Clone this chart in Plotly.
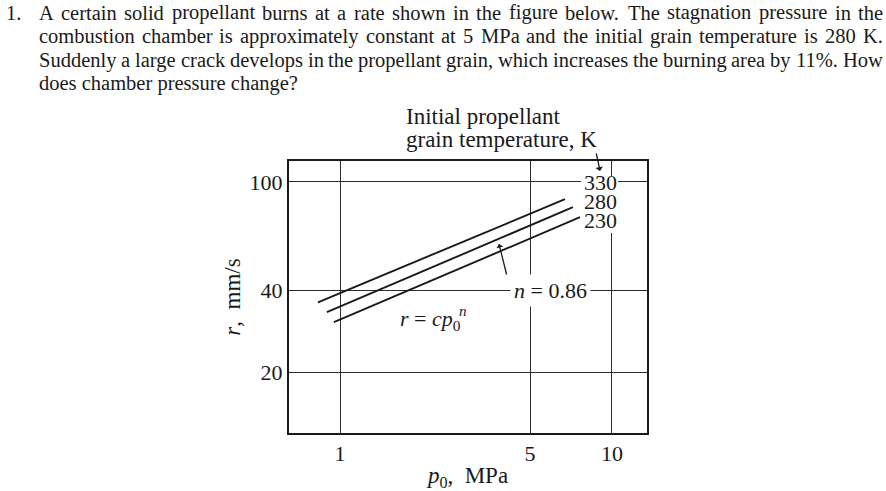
import math
import plotly.graph_objects as go

# ---- data ----
temps_K = ["330", "280", "230"]
p0_start = [0.829, 0.894, 0.949]      # MPa, left end of each line
p0_end = [6.72, 7.19, 7.63]           # MPa, right end
r_start = [36.1, 33.2, 30.5]          # mm/s at left end
r_end = [86.4, 80.8, 74.2]            # mm/s at right end
x_ticks = [1, 5, 10]
y_ticks = [20, 40, 100]
x_tick_text = ["1", "5", "10"]
y_tick_text = ["20", "40", "100"]
n_exponent = "0.86"

problem_lines = [
    "A certain solid propellant burns at a rate shown in the figure below. The stagnation pressure in the",
    "combustion chamber is approximately constant at 5 MPa and the initial grain temperature is 280 K.",
    "Suddenly a large crack develops in the propellant grain, which increases the burning area by 11%. How",
    "does chamber pressure change?",
]
justify_line = [True, True, True, False]

W, H = 886, 491
L, R, T, B = 289, 647, 161, 433
SERIF = "Liberation Serif, Times New Roman, serif"
INK = "#1a1a1a"

# Times-compatible advance widths (per 1000 em), used only to justify the paragraph
_TW = {' ': 250, '!': 333, ',': 250, '-': 333, '.': 250, '?': 444, '%': 833, ':': 278,
       'A': 722, 'B': 667, 'C': 667, 'D': 722, 'E': 611, 'F': 556, 'G': 722, 'H': 722,
       'I': 333, 'J': 389, 'K': 722, 'L': 611, 'M': 889, 'N': 722, 'O': 722, 'P': 556,
       'Q': 722, 'R': 667, 'S': 556, 'T': 611, 'U': 722, 'V': 722, 'W': 944, 'X': 722,
       'Y': 722, 'Z': 611, 'a': 444, 'b': 500, 'c': 444, 'd': 500, 'e': 444, 'f': 333,
       'g': 500, 'h': 500, 'i': 278, 'j': 278, 'k': 500, 'l': 278, 'm': 778, 'n': 500,
       'o': 500, 'p': 500, 'q': 500, 'r': 333, 's': 389, 't': 278, 'u': 500, 'v': 500,
       'w': 722, 'x': 500, 'y': 500, 'z': 444}


def text_w(s, size):
    return sum(_TW.get(ch, 500) for ch in s) * size / 1000.0


def px(x):
    return (x - L) / (R - L)


def py(y):
    return (B - y) / (B - T)


fig = go.Figure()
for i, t in enumerate(temps_K):
    fig.add_trace(go.Scatter(
        x=[p0_start[i], p0_end[i]], y=[r_start[i], r_end[i]],
        mode="lines", line=dict(color=INK, width=1.9),
        name=t + " K", hoverinfo="skip"))

fig.update_layout(
    width=W, height=H,
    margin=dict(l=L, r=W - R, t=T, b=H - B, autoexpand=False),
    paper_bgcolor="white", plot_bgcolor="white",
    showlegend=False,
    font=dict(family=SERIF, color=INK, size=22),
    xaxis=dict(type="log", range=[-0.188, 1.129], tickvals=x_ticks, ticktext=x_tick_text,
               showgrid=True, gridcolor="#2c2c2c", gridwidth=1.4, zeroline=False,
               showline=True, mirror=True, linecolor=INK, linewidth=2, ticks="",
               tickfont=dict(size=22, family=SERIF, color=INK),
               title=dict(text="<i>p</i><sub>0</sub>,  MPa", standoff=2,
                          font=dict(size=23, family=SERIF, color=INK))),
    yaxis=dict(type="log", range=[1.077, 2.077], tickvals=y_ticks, ticktext=y_tick_text,
               showgrid=True, gridcolor="#2c2c2c", gridwidth=1.4, zeroline=False,
               showline=True, mirror=True, linecolor=INK, linewidth=2, ticks="",
               tickfont=dict(size=22, family=SERIF, color=INK),
               title=dict(text="<i>r</i>,  mm/s", standoff=3,
                          font=dict(size=23, family=SERIF, color=INK))),
)

# gap in the grid behind the temperature labels
fig.add_shape(type="rect", xref="paper", yref="paper", layer="above",
              x0=px(581), x1=px(618), y0=py(233), y1=py(176),
              fillcolor="white", line=dict(width=0))

ann = []
# problem statement (justified like the source page)
FS = 20.5
X0, X1 = 37, 881
ann.append(dict(text="1.", x=px(4), y=py(13), xref="paper", yref="paper",
                xanchor="left", yanchor="middle", showarrow=False,
                font=dict(size=FS, family=SERIF, color=INK)))
for line, yy, just in zip(problem_lines, [13, 36, 60, 84], justify_line):
    if not just:
        ann.append(dict(text=line, x=px(X0), y=py(yy), xref="paper", yref="paper",
                        xanchor="left", yanchor="middle", showarrow=False,
                        font=dict(size=FS, family=SERIF, color=INK)))
        continue
    words = line.split(" ")
    widths = [text_w(w, FS) for w in words]
    gap = (X1 - X0 - sum(widths)) / (len(words) - 1)
    xpos = X0
    for w, ww in zip(words, widths):
        ann.append(dict(text=w, x=px(xpos), y=py(yy), xref="paper", yref="paper",
                        xanchor="left", yanchor="middle", showarrow=False,
                        font=dict(size=FS, family=SERIF, color=INK)))
        xpos += ww + gap

# heading above temperatures
ann.append(dict(text="Initial propellant", x=px(404), y=py(117), xref="paper", yref="paper",
                xanchor="left", yanchor="middle", showarrow=False,
                font=dict(size=23, family=SERIF, color=INK)))
ann.append(dict(text="grain temperature, K", x=px(404), y=py(139), xref="paper", yref="paper",
                xanchor="left", yanchor="middle", showarrow=False,
                font=dict(size=23, family=SERIF, color=INK)))
# arrow from K to 330
ann.append(dict(text="", x=px(600), y=py(171), xref="paper", yref="paper",
                ax=-4, ay=-19, showarrow=True, arrowhead=1, arrowsize=1,
                arrowwidth=1.3, arrowcolor=INK))

# temperature labels
for t, yy in zip(temps_K, [182, 201, 220]):
    ann.append(dict(text=t, x=px(600), y=py(yy), xref="paper", yref="paper",
                    xanchor="center", yanchor="middle", showarrow=False,
                    font=dict(size=22, family=SERIF, color=INK)))

# n = 0.86 on the 40 grid line (log axis -> log10 coordinate)
ann.append(dict(text="<i>n</i> = " + n_exponent, x=px(550), y=math.log10(40),
                xref="paper", yref="y",
                xanchor="center", yanchor="middle", showarrow=False,
                bgcolor="white", borderpad=3,
                font=dict(size=22, family=SERIF, color=INK)))
# leader from label to the curves
ann.append(dict(text="", x=px(499), y=py(244), xref="paper", yref="paper",
                ax=8, ay=32, showarrow=True, arrowhead=1, arrowsize=0.9,
                arrowwidth=1.3, arrowcolor=INK))

# burning-rate law  r = c p0^n
ann.append(dict(text="<i>r</i> = <i>cp</i><sub>0</sub>", x=px(398), y=py(320),
                xref="paper", yref="paper", xanchor="left", yanchor="middle",
                showarrow=False, font=dict(size=22, family=SERIF, color=INK)))
ann.append(dict(text="<i>n</i>", x=px(457), y=py(311),
                xref="paper", yref="paper", xanchor="left", yanchor="middle",
                showarrow=False, font=dict(size=15, family=SERIF, color=INK)))

fig.update_layout(annotations=ann)
fig.write_html("out.html")
